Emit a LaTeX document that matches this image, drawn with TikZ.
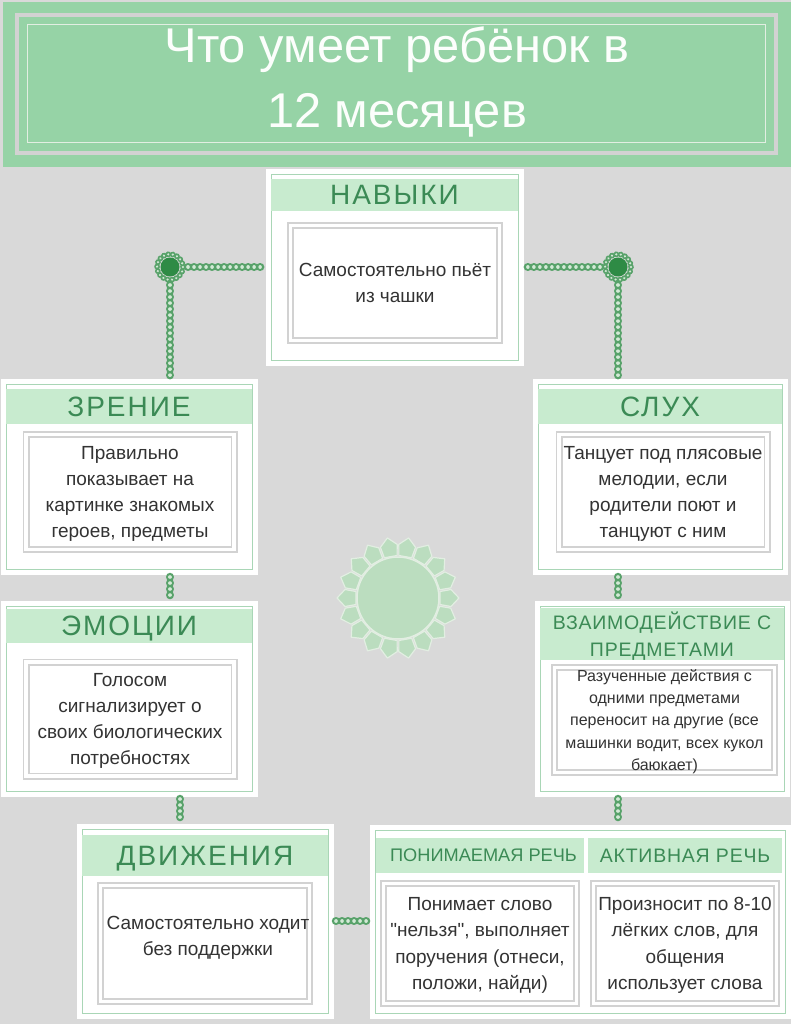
\documentclass[tikz,border=0pt]{standalone}
\usepackage{fontspec}
\setmainfont{Liberation Sans}
\newfontfamily\headfont[LetterSpace=7]{Liberation Sans}
\newfontfamily\headsmall[LetterSpace=4]{Liberation Sans}
\newfontfamily\quotefont{Liberation Sans}
\definecolor{pagegray}{HTML}{D9D9D9}
\definecolor{bandgreen}{HTML}{96D3A6}
\definecolor{headgreen}{HTML}{C8EBCF}
\definecolor{cardgreen}{HTML}{A9D6B6}
\definecolor{inkgreen}{HTML}{3B8A55}
\definecolor{darkgreen}{HTML}{2E8B45}
\definecolor{framegray}{HTML}{D2D2D2}
\definecolor{bodyink}{HTML}{333333}
\definecolor{sungreen}{HTML}{BBDDBF}
\definecolor{sunpale}{HTML}{E2EEE2}
\tikzstyle{card}=[rectangle,fill=white,draw=white,line width=5pt,double=cardgreen,double distance=1pt,inner sep=0pt,outer sep=5.5pt]
\tikzstyle{head}=[rectangle,fill=headgreen,inner sep=0pt,text=inkgreen,align=center,text depth=0pt]
\tikzstyle{body}=[rectangle,draw=framegray,line width=1.7pt,double=white,double distance=3.6pt,fill=white,inner sep=0pt,text=bodyink,align=center,text depth=0pt,font=\fontsize{19}{26.3}\selectfont]
\tikzstyle{chainlink}=[draw=darkgreen!80,line width=8.5pt,line cap=round,dash pattern=on 0.01pt off 6pt,shorten >=2.5pt,shorten <=2.5pt,postaction={draw=sunpale!80!bandgreen,line width=3.6pt}]
\tikzstyle{flower}=[circle,fill=darkgreen,minimum size=19pt,inner sep=0pt,outer sep=6pt]
\tikzstyle{flowerring}=[draw=darkgreen!80,line width=5.8pt,line cap=round,dash pattern=on 0.01pt off 4.54pt,postaction={draw=sunpale!80!bandgreen,line width=2.4pt}]
\tikzstyle{petal}=[fill=sungreen,draw=sunpale,line width=1.2pt,line join=round]

\begin{document}
\begin{tikzpicture}[x=1pt,y=-1pt]
\fill[pagegray] (0,0) rectangle (791,1024);
\path[use as bounding box] (0,0) rectangle (791,1024);
% title band
\node[rectangle,fill=bandgreen,minimum width=788,minimum height=165,inner sep=0pt] at (397,84.5) (band) {};
\node[rectangle,draw=framegray,line width=4pt,minimum width=759,minimum height=138,inner sep=0pt] at (396.5,84) (bandframe) {};
\node[rectangle,draw=sunpale,line width=1pt,minimum width=738,minimum height=118,inner sep=0pt] at (396,84) (bandinner) {};
\node[text=white!97!bandgreen,align=center,font=\fontsize{48.8}{65}\selectfont] at (397,81.5) (title) {Что умеет ребёнок в\\12 месяцев};
% sun
\foreach \a in {0,20,...,340}
  \draw[petal,rotate around={\a:(398,598)}] (440,591.5) -- (451,589.5) -- (459,598) -- (451,606.5) -- (440,604.5) -- cycle;
\node[circle,fill=sungreen,draw=sunpale,line width=1.5pt,minimum size=82pt,inner sep=0pt] at (398,598) (sun) {};
% cards
\node[card,minimum width=247,minimum height=185] at (394.5,267.5) (navyki) {};
\node[card,minimum width=246,minimum height=185] at (129,476.5) (zrenie) {};
\node[card,minimum width=244,minimum height=185] at (660,476.5) (sluh) {};
\node[card,minimum width=246,minimum height=185] at (129,698.5) (emocii) {};
\node[card,minimum width=244,minimum height=185] at (662,698.5) (vzaim) {};
\node[card,minimum width=246,minimum height=184] at (205,921) (dvizh) {};
\node[card,minimum width=410,minimum height=183] at (580,921.5) (rech) {};
% headers
\node[head,minimum width=247,minimum height=32,font=\fontsize{28}{30}\headfont] at (394.5,195) (navykihead) {НАВЫКИ};
\node[head,minimum width=246,minimum height=35,font=\fontsize{28}{30}\headfont] at (129,406.5) (zreniehead) {ЗРЕНИЕ};
\node[head,minimum width=244,minimum height=35,font=\fontsize{28}{30}\headfont] at (660,406.5) (sluhhead) {СЛУХ};
\node[head,minimum width=246,minimum height=34,font=\fontsize{28}{30}\headfont] at (129,626) (emociihead) {ЭМОЦИИ};
\node[head,minimum width=244,minimum height=52,font=\fontsize{19.5}{27}\headsmall] at (662,634) (vzaimhead) {ВЗАИМОДЕЙСТВИЕ С\\ПРЕДМЕТАМИ};
\node[head,minimum width=246,minimum height=41,font=\fontsize{28}{32}\headfont] at (205,855.5) (dvizhhead) {ДВИЖЕНИЯ};
\node[head,minimum width=208,minimum height=35,font=\fontsize{18.2}{22}\selectfont] at (479.5,855.5) (ponimhead) {\hspace*{8pt}ПОНИМАЕМАЯ РЕЧЬ};
\node[head,minimum width=194,minimum height=35,font=\fontsize{19.5}{22}\headsmall] at (685,855.5) (aktivhead) {АКТИВНАЯ РЕЧЬ};
% bodies
\node[body,minimum width=209,minimum height=115] at (395,283) (navykibody) {Самостоятельно пьёт\\из чашки};
\node[body,minimum width=208,minimum height=115] at (130,492) (zreniebody) {Правильно\\показывает на\\картинке знакомых\\героев, предметы};
\node[body,minimum width=208,minimum height=115] at (663,492) (sluhbody) {Танцует под плясовые\\мелодии, если\\родители поют и\\танцуют с ним};
\node[body,minimum width=208,minimum height=114] at (130,719) (emociibody) {Голосом\\сигнализирует о\\своих биологических\\потребностях};
\node[body,minimum width=220,minimum height=105,font=\fontsize{16}{22.3}\selectfont] at (664.5,720) (vzaimbody) {Разученные действия с\\одними предметами\\переносит на другие (все\\машинки водит, всех кукол\\баюкает)};
\node[body,minimum width=209,minimum height=116] at (205,943.5) (dvizhbody) {};
\node[text=bodyink,align=center,font=\fontsize{19}{26.3}\selectfont] at (208,938) (dvizhtext) {Самостоятельно ходит\\без поддержки};
\node[body,minimum width=193,minimum height=120] at (480,943.5) (ponimbody) {Понимает слово\\{\quotefont"}нельзя{\quotefont"}, выполняет\\поручения (отнеси,\\положи, найди)};
\node[body,minimum width=183,minimum height=120] at (685,943.5) (aktivbody) {Произносит по 8-10\\лёгких слов, для\\общения\\использует слова};
% connectors
\node[flower] at (170,267) (flowerl) {};
\node[flower] at (618,267) (flowerr) {};
\coordinate (joine) at (180,809);
\draw[flowerring] (flowerl) circle (13);
\draw[flowerring] (flowerr) circle (13);
\draw[chainlink] (flowerl) -- (navyki.west |- flowerl);
\draw[chainlink] (flowerr) -- (navyki.east |- flowerr);
\draw[chainlink] (flowerl) -- (zrenie.north -| flowerl);
\draw[chainlink] (flowerr) -- (sluh.north -| flowerr);
\draw[chainlink] (zrenie.south -| flowerl) -- (emocii.north -| flowerl);
\draw[chainlink] (emocii.south -| joine) -- (dvizh.north -| joine);
\draw[chainlink] (sluh.south -| flowerr) -- (vzaim.north -| flowerr);
\draw[chainlink] (vzaim.south -| flowerr) -- (rech.north -| flowerr);
\draw[chainlink] (dvizh.east) -- (rech.west |- dvizh.east);
\end{tikzpicture}
\end{document}
